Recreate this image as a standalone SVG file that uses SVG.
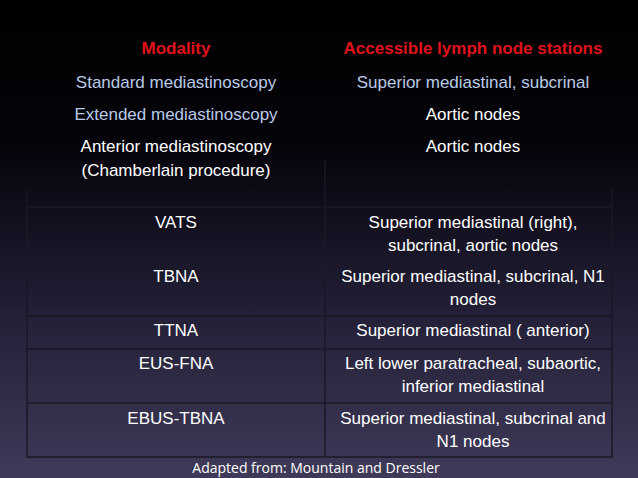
<svg xmlns="http://www.w3.org/2000/svg" width="638" height="478" viewBox="0 0 638 478">
<defs>
<linearGradient id="bg" x1="0" y1="0" x2="0" y2="1">
<stop offset="0" stop-color="#000000"/>
<stop offset="0.3" stop-color="#05040a"/>
<stop offset="0.65" stop-color="#221f36"/>
<stop offset="1" stop-color="#3f3a58"/>
</linearGradient>
</defs>
<style>
text{font-family:"Liberation Sans",Arial,sans-serif;font-size:17px;text-anchor:middle;fill:#ffffff}
.h{fill:#e0121a;font-weight:bold}
.b{fill:#b9cbe8}
.g{stroke:#1a1826;stroke-width:1.5;fill:none}
.src{font-family:"Open Sans",sans-serif;font-size:14px}
</style>
<rect width="638" height="478" fill="url(#bg)"/>
<g id="grid" class="g">
<path d="M27 190V457H612V190M325 160V457M27 207H612M27 262H612M27 316H612M27 349H612M27 403H612"/>
</g>
<g id="header"><text class="h" x="176" y="54">Modality</text><text class="h" x="473" y="54">Accessible lymph node stations</text></g>
<g id="r1"><text class="b" x="176" y="88">Standard mediastinoscopy</text><text class="b" x="473" y="88">Superior mediastinal, subcrinal</text></g>
<g id="r2"><text class="b" x="176" y="120">Extended mediastinoscopy</text><text x="473" y="120">Aortic nodes</text></g>
<g id="r3"><text x="176" y="152">Anterior mediastinoscopy</text><text x="176" y="176">(Chamberlain procedure)</text><text x="473" y="152">Aortic nodes</text></g>
<g id="r4"><text x="176" y="228">VATS</text><text x="473" y="228">Superior mediastinal (right),</text><text x="473" y="251">subcrinal, aortic nodes</text></g>
<g id="r5"><text x="176" y="282">TBNA</text><text x="473" y="282">Superior mediastinal, subcrinal, N1</text><text x="473" y="305">nodes</text></g>
<g id="r6"><text x="176" y="336">TTNA</text><text x="473" y="336">Superior mediastinal ( anterior)</text></g>
<g id="r7"><text x="176" y="369">EUS-FNA</text><text x="473" y="369">Left lower paratracheal,  subaortic,</text><text x="473" y="392">inferior mediastinal</text></g>
<g id="r8"><text x="176" y="424">EBUS-TBNA</text><text x="473" y="424">Superior mediastinal, subcrinal and</text><text x="473" y="447">N1 nodes</text></g>
<text class="src" x="316" y="473">Adapted from: Mountain and Dressler</text>
</svg>
